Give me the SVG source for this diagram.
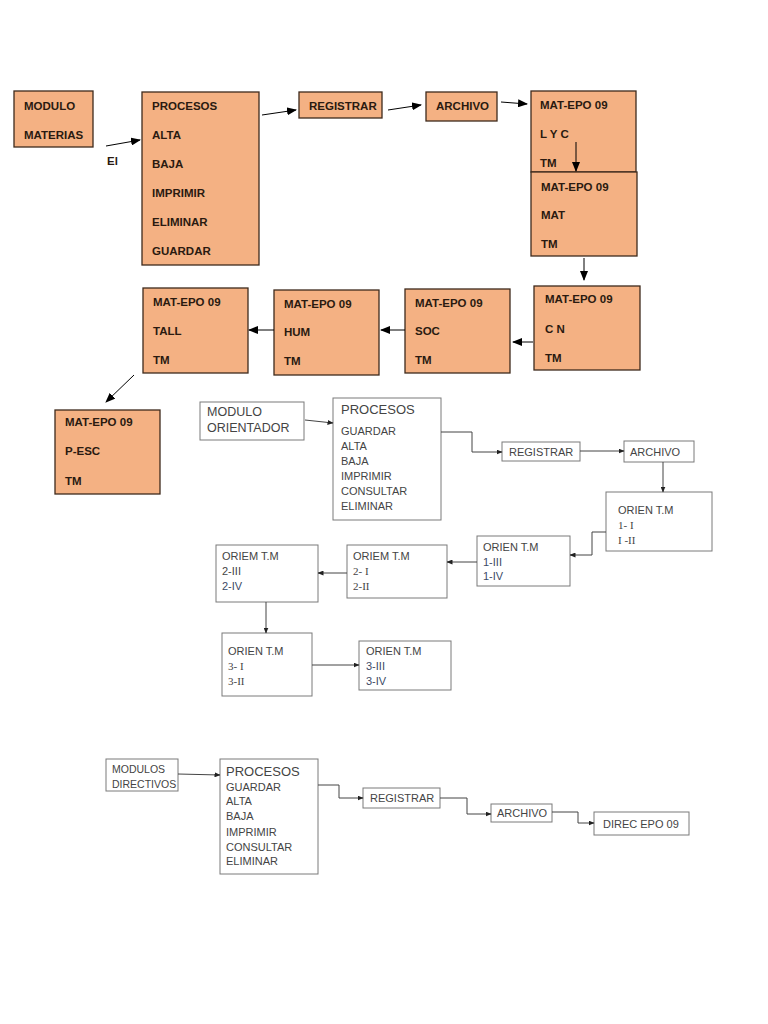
<svg xmlns="http://www.w3.org/2000/svg" width="768" height="1024" viewBox="0 0 768 1024">
<defs>
<marker id="ah" markerWidth="10" markerHeight="8" refX="9" refY="4" orient="auto" markerUnits="userSpaceOnUse">
<path d="M0,0 L10,4 L0,8 z" fill="#000"/>
</marker>
<marker id="as" markerWidth="6" markerHeight="5" refX="5.5" refY="2.5" orient="auto" markerUnits="userSpaceOnUse">
<path d="M0,0 L6,2.5 L0,5 z" fill="#222"/>
</marker>
</defs>
<style>
.ob{fill:#F4B183;stroke:#3e2a1c;stroke-width:1.3}
.ot{font-family:"Liberation Sans",Arial,sans-serif;font-weight:bold;font-size:11.5px;fill:#2a1a10}
.wb{fill:#fff;stroke:#7a7a7a;stroke-width:1}
.wt{font-family:"Liberation Sans",Arial,sans-serif;font-size:11px;fill:#444}
.wl{font-family:"Liberation Sans",Arial,sans-serif;font-size:13px;fill:#444}
.ws{font-family:"Liberation Serif","Times New Roman",serif;font-size:11px;fill:#444}
.wbl{font-family:"Liberation Sans",Arial,sans-serif;font-size:11px;fill:#3c4a66}
.ca{fill:none;stroke:#000;stroke-width:1;marker-end:url(#ah)}
.cs{fill:none;stroke:#444;stroke-width:1;marker-end:url(#as)}
</style>
<rect width="768" height="1024" fill="#fff"/>

<text class="ot" x="107" y="165">El</text>

<g id="modulo-materias">
<rect class="ob" x="14" y="91" width="79" height="56"/>
<text class="ot" x="24" y="110">MODULO</text>
<text class="ot" x="24" y="139">MATERIAS</text>
</g>
<g id="procesos1">
<rect class="ob" x="142" y="92" width="117" height="173"/>
<text class="ot" x="152" y="110">PROCESOS</text>
<text class="ot" x="152" y="139">ALTA</text>
<text class="ot" x="152" y="168">BAJA</text>
<text class="ot" x="152" y="197">IMPRIMIR</text>
<text class="ot" x="152" y="226">ELIMINAR</text>
<text class="ot" x="152" y="255">GUARDAR</text>
</g>
<g id="registrar1">
<rect class="ob" x="299" y="92" width="83" height="26"/>
<text class="ot" x="309" y="110">REGISTRAR</text>
</g>
<g id="archivo1">
<rect class="ob" x="426" y="92" width="71" height="29"/>
<text class="ot" x="436" y="110">ARCHIVO</text>
</g>
<g id="mat-lyc">
<rect class="ob" x="531" y="91" width="105" height="81"/>
<text class="ot" x="540" y="109">MAT-EPO 09</text>
<text class="ot" x="540" y="138">L Y C</text>
<text class="ot" x="540" y="167">TM</text>
</g>
<g id="mat-mat">
<rect class="ob" x="531" y="172" width="106" height="84"/>
<text class="ot" x="541" y="191">MAT-EPO 09</text>
<text class="ot" x="541" y="219">MAT</text>
<text class="ot" x="541" y="248">TM</text>
</g>
<g id="mat-cn">
<rect class="ob" x="534" y="286" width="106" height="84"/>
<text class="ot" x="545" y="303">MAT-EPO 09</text>
<text class="ot" x="545" y="333">C N</text>
<text class="ot" x="545" y="362">TM</text>
</g>
<g id="mat-soc">
<rect class="ob" x="405" y="289" width="105" height="84"/>
<text class="ot" x="415" y="307">MAT-EPO 09</text>
<text class="ot" x="415" y="335">SOC</text>
<text class="ot" x="415" y="364">TM</text>
</g>
<g id="mat-hum">
<rect class="ob" x="274" y="290" width="105" height="85"/>
<text class="ot" x="284" y="308">MAT-EPO 09</text>
<text class="ot" x="284" y="336">HUM</text>
<text class="ot" x="284" y="365">TM</text>
</g>
<g id="mat-tall">
<rect class="ob" x="143" y="288" width="105" height="85"/>
<text class="ot" x="153" y="306">MAT-EPO 09</text>
<text class="ot" x="153" y="335">TALL</text>
<text class="ot" x="153" y="364">TM</text>
</g>
<g id="mat-pesc">
<rect class="ob" x="55" y="410" width="105" height="84"/>
<text class="ot" x="65" y="426">MAT-EPO 09</text>
<text class="ot" x="65" y="455">P-ESC</text>
<text class="ot" x="65" y="485">TM</text>
</g>

<g id="modulo-orientador">
<rect class="wb" x="200" y="402" width="104" height="38"/>
<text class="wl" x="207" y="416" style="font-size:12.5px">MODULO</text>
<text class="wl" x="207" y="432" style="font-size:12.5px">ORIENTADOR</text>
</g>
<g id="procesos2">
<rect class="wb" x="333" y="398" width="108" height="122"/>
<text class="wl" x="341" y="414">PROCESOS</text>
<text class="wt" x="341" y="435">GUARDAR</text>
<text class="wt" x="341" y="450">ALTA</text>
<text class="wt" x="341" y="465">BAJA</text>
<text class="wt" x="341" y="480">IMPRIMIR</text>
<text class="wt" x="341" y="495">CONSULTAR</text>
<text class="wt" x="341" y="510">ELIMINAR</text>
</g>
<g id="registrar2">
<rect class="wb" x="502" y="442" width="78" height="19"/>
<text class="wt" x="509" y="456">REGISTRAR</text>
</g>
<g id="archivo2">
<rect class="wb" x="624" y="441" width="70" height="21"/>
<text class="wt" x="630" y="456">ARCHIVO</text>
</g>
<g id="orien-1-i">
<rect class="wb" x="606" y="492" width="106" height="59"/>
<text class="wt" x="618" y="514">ORIEN T.M</text>
<text class="ws" x="618" y="529">1- I</text>
<text class="ws" x="618" y="544">I -II</text>
</g>
<g id="orien-1-iii">
<rect class="wb" x="477" y="536" width="93" height="50"/>
<text class="wt" x="483" y="551">ORIEN T.M</text>
<text class="wbl" x="483" y="566">1-III</text>
<text class="wbl" x="483" y="580">1-IV</text>
</g>
<g id="oriem-2-i">
<rect class="wb" x="347" y="545" width="100" height="53"/>
<text class="wt" x="353" y="560">ORIEM T.M</text>
<text class="ws" x="353" y="575">2- I</text>
<text class="ws" x="353" y="590">2-II</text>
</g>
<g id="oriem-2-iii">
<rect class="wb" x="216" y="545" width="102" height="57"/>
<text class="wt" x="222" y="560">ORIEM T.M</text>
<text class="wt" x="222" y="575">2-III</text>
<text class="wbl" x="222" y="590">2-IV</text>
</g>
<g id="orien-3-i">
<rect class="wb" x="222" y="633" width="90" height="63"/>
<text class="wt" x="228" y="655">ORIEN T.M</text>
<text class="ws" x="228" y="670">3- I</text>
<text class="ws" x="228" y="685">3-II</text>
</g>
<g id="orien-3-iii">
<rect class="wb" x="359" y="641" width="92" height="49"/>
<text class="wt" x="366" y="655">ORIEN T.M</text>
<text class="wbl" x="366" y="670">3-III</text>
<text class="wbl" x="366" y="685">3-IV</text>
</g>

<g id="modulos-directivos">
<rect class="wb" x="106" y="759" width="72" height="32"/>
<text class="wt" x="112" y="773" style="font-size:10.5px">MODULOS</text>
<text class="wt" x="112" y="788" style="font-size:10.5px">DIRECTIVOS</text>
</g>
<g id="procesos3">
<rect class="wb" x="220" y="759" width="98" height="115"/>
<text class="wl" x="226" y="776">PROCESOS</text>
<text class="wt" x="226" y="791">GUARDAR</text>
<text class="wt" x="226" y="805">ALTA</text>
<text class="wt" x="226" y="820">BAJA</text>
<text class="wt" x="226" y="836">IMPRIMIR</text>
<text class="wt" x="226" y="851">CONSULTAR</text>
<text class="wt" x="226" y="865">ELIMINAR</text>
</g>
<g id="registrar3">
<rect class="wb" x="363" y="788" width="77" height="20"/>
<text class="wt" x="370" y="802">REGISTRAR</text>
</g>
<g id="archivo3">
<rect class="wb" x="491" y="804" width="61" height="18"/>
<text class="wt" x="497" y="817">ARCHIVO</text>
</g>
<g id="direc-epo">
<rect class="wb" x="594" y="812" width="95" height="23"/>
<text class="wt" x="603" y="828">DIREC EPO 09</text>
</g>

<g id="connectors">
<path class="ca" d="M106,146 L140,140"/>
<path class="ca" d="M262,115 L296,110"/>
<path class="ca" d="M388,110 L421,105"/>
<path class="ca" d="M501,102 L527,104"/>
<path class="ca" d="M576,142 L576,171"/>
<path class="ca" d="M584,258 L584,280"/>
<path class="ca" d="M533,342 L513,342"/>
<path class="ca" d="M405,330 L381,330"/>
<path class="ca" d="M274,330 L249,330"/>
<path class="ca" d="M134,375 L106,402"/>

<path class="cs" d="M305,420 L333,423"/>
<path class="cs" d="M441,432 L472,432 L472,452 L502,452"/>
<path class="cs" d="M580,451 L624,451"/>
<path class="cs" d="M663,462 L663,492"/>
<path class="cs" d="M606,532 L592,532 L592,555 L570,555"/>
<path class="cs" d="M477,562 L447,562"/>
<path class="cs" d="M347,573 L318,573"/>
<path class="cs" d="M266,602 L266,633"/>
<path class="cs" d="M312,665 L359,665"/>

<path class="cs" d="M178,774 L220,775"/>
<path class="cs" d="M318,785 L339,785 L339,798 L363,798"/>
<path class="cs" d="M440,798 L467,798 L467,814 L491,814"/>
<path class="cs" d="M552,812 L578,812 L578,823 L594,823"/>
</g>
</svg>
